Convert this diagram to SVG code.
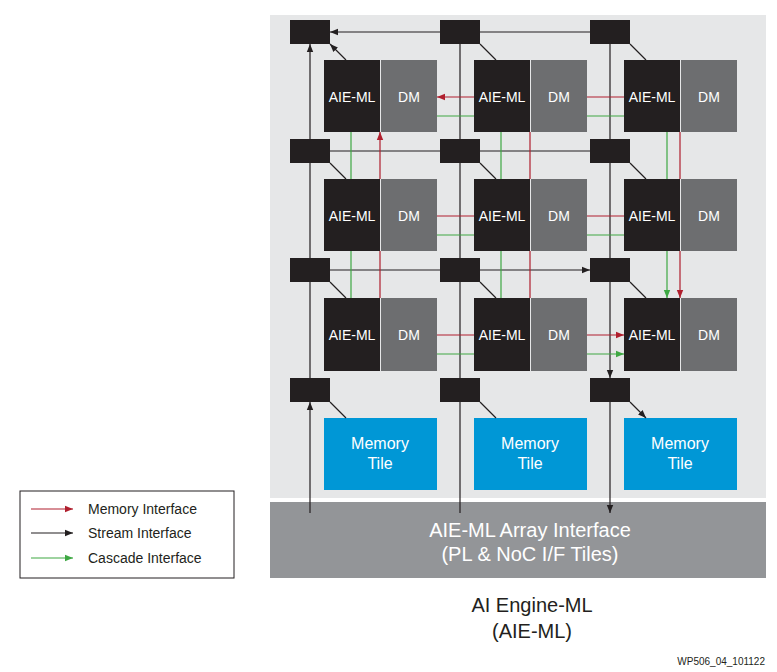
<svg xmlns="http://www.w3.org/2000/svg" width="777" height="672" viewBox="0 0 777 672">
<defs>
<marker id="ak" viewBox="0 0 10 10" refX="10" refY="5" markerWidth="8" markerHeight="8" markerUnits="userSpaceOnUse" orient="auto-start-reverse"><path d="M0,1 L10,5 L0,9 Z" fill="#231f20"/></marker>
<marker id="ar" viewBox="0 0 10 10" refX="10" refY="5" markerWidth="8" markerHeight="8" markerUnits="userSpaceOnUse" orient="auto-start-reverse"><path d="M0,1 L10,5 L0,9 Z" fill="#b01f2e"/></marker>
<marker id="ag" viewBox="0 0 10 10" refX="10" refY="5" markerWidth="8" markerHeight="8" markerUnits="userSpaceOnUse" orient="auto-start-reverse"><path d="M0,1 L10,5 L0,9 Z" fill="#3ea843"/></marker>
</defs>
<style>
text{font-family:"Liberation Sans",Arial,sans-serif;}
.sw{fill:#231f20}
.aie{fill:#231f20}
.dm{fill:#6d6e70}
.mt{fill:#0097d6}
.lbl{fill:#fff;font-size:14px;text-anchor:middle}
.mtl{fill:#fff;font-size:16px;text-anchor:middle}
.k{stroke:#231f20;stroke-width:1.2;fill:none;marker-start:url(#ak);marker-end:url(#ak)}
.k1{stroke:#231f20;stroke-width:1.2;fill:none;marker-end:url(#ak)}
.r{stroke:#b01f2e;stroke-width:1.2;fill:none;marker-start:url(#ar);marker-end:url(#ar)}
.g{stroke:#3ea843;stroke-width:1.2;fill:none;marker-end:url(#ag)}
.lr{stroke:#b01f2e;stroke-width:1.2;marker-end:url(#ar)}
.lk{stroke:#231f20;stroke-width:1.2;marker-end:url(#ak)}
.lg{stroke:#3ea843;stroke-width:1.2;marker-end:url(#ag)}
</style>
<rect x="270" y="15" width="496" height="483" fill="#e6e7e8"/>
<rect x="270" y="502" width="496" height="76" fill="#939598"/>
<g id="array-interface">
<text x="530" y="537" font-size="20" fill="#fff" text-anchor="middle">AIE-ML Array Interface</text>
<text x="530" y="561" font-size="20" fill="#fff" text-anchor="middle">(PL &amp; NoC I/F Tiles)</text>
</g>
<g id="switches">
<rect class="sw" x="290" y="20" width="40" height="24"/><rect class="sw" x="440" y="20" width="40" height="24"/><rect class="sw" x="590" y="20" width="40" height="24"/>
<rect class="sw" x="290" y="139" width="40" height="24"/><rect class="sw" x="440" y="139" width="40" height="24"/><rect class="sw" x="590" y="139" width="40" height="24"/>
<rect class="sw" x="290" y="258" width="40" height="24"/><rect class="sw" x="440" y="258" width="40" height="24"/><rect class="sw" x="590" y="258" width="40" height="24"/>
<rect class="sw" x="290" y="378" width="40" height="24"/><rect class="sw" x="440" y="378" width="40" height="24"/><rect class="sw" x="590" y="378" width="40" height="24"/>
</g>
<g id="tiles">
<g id="t11"><rect class="aie" x="324" y="60" width="56" height="72"/><rect class="dm" x="381" y="60" width="56" height="72"/><text class="lbl" x="352" y="102">AIE-ML</text><text class="lbl" x="409" y="102">DM</text></g>
<g id="t12"><rect class="aie" x="474" y="60" width="56" height="72"/><rect class="dm" x="531" y="60" width="56" height="72"/><text class="lbl" x="502" y="102">AIE-ML</text><text class="lbl" x="559" y="102">DM</text></g>
<g id="t13"><rect class="aie" x="624" y="60" width="56" height="72"/><rect class="dm" x="681" y="60" width="56" height="72"/><text class="lbl" x="652" y="102">AIE-ML</text><text class="lbl" x="709" y="102">DM</text></g>
<g id="t21"><rect class="aie" x="324" y="179" width="56" height="72"/><rect class="dm" x="381" y="179" width="56" height="72"/><text class="lbl" x="352" y="221">AIE-ML</text><text class="lbl" x="409" y="221">DM</text></g>
<g id="t22"><rect class="aie" x="474" y="179" width="56" height="72"/><rect class="dm" x="531" y="179" width="56" height="72"/><text class="lbl" x="502" y="221">AIE-ML</text><text class="lbl" x="559" y="221">DM</text></g>
<g id="t23"><rect class="aie" x="624" y="179" width="56" height="72"/><rect class="dm" x="681" y="179" width="56" height="72"/><text class="lbl" x="652" y="221">AIE-ML</text><text class="lbl" x="709" y="221">DM</text></g>
<g id="t31"><rect class="aie" x="324" y="298" width="56" height="73"/><rect class="dm" x="381" y="298" width="56" height="73"/><text class="lbl" x="352" y="340">AIE-ML</text><text class="lbl" x="409" y="340">DM</text></g>
<g id="t32"><rect class="aie" x="474" y="298" width="56" height="73"/><rect class="dm" x="531" y="298" width="56" height="73"/><text class="lbl" x="502" y="340">AIE-ML</text><text class="lbl" x="559" y="340">DM</text></g>
<g id="t33"><rect class="aie" x="624" y="298" width="56" height="73"/><rect class="dm" x="681" y="298" width="56" height="73"/><text class="lbl" x="652" y="340">AIE-ML</text><text class="lbl" x="709" y="340">DM</text></g>
<g id="m1"><rect class="mt" x="324" y="418" width="113" height="72"/><text class="mtl" x="380" y="449">Memory</text><text class="mtl" x="380" y="469">Tile</text></g>
<g id="m2"><rect class="mt" x="474" y="418" width="113" height="72"/><text class="mtl" x="530" y="449">Memory</text><text class="mtl" x="530" y="469">Tile</text></g>
<g id="m3"><rect class="mt" x="624" y="418" width="113" height="72"/><text class="mtl" x="680" y="449">Memory</text><text class="mtl" x="680" y="469">Tile</text></g>
</g>
<g id="connectors">
<!-- stream vertical -->
<path class="k" d="M310,44V139M460,44V139M610,44V139M310,163V258M460,163V258M610,163V258M310,282V378M460,282V378M610,282V378"/>
<path class="k" d="M310,402V513M460,402V513M610,402V513"/>
<!-- stream horizontal -->
<path class="k" d="M330,32H440M480,32H590M330,151H440M480,151H590M330,270H440M480,270H590"/>
<!-- diagonals -->
<path class="k" d="M330,44L346,60M480,44L496,60M630,44L646,60M330,163L346,179M480,163L496,179M630,163L646,179M330,282L346,298M480,282L496,298M630,282L646,298M330,402L346,418M480,402L496,418M630,402L646,418"/>
<!-- memory horizontal -->
<path class="r" d="M437,97H474M587,97H624M437,216H474M587,216H624M437,335H474M587,335H624"/>
<!-- memory vertical -->
<path class="r" d="M380,132V179M530,132V179M680,132V179M380,251V298M530,251V298M680,251V298"/>
<!-- cascade -->
<path class="g" d="M437,116H474M587,116H624M437,235H474M587,235H624M437,354H474M587,354H624"/>
<path class="g" d="M351,132V179M501,132V179M667,132V179M351,251V298M501,251V298M667,251V298"/>
</g>
<g id="legend">
<rect x="20" y="491" width="214" height="87" fill="#fff" stroke="#231f20" stroke-width="1"/>
<line class="lr" x1="31" y1="509" x2="73" y2="509"/>
<line class="lk" x1="31" y1="533" x2="73" y2="533"/>
<line class="lg" x1="31" y1="558" x2="73" y2="558"/>
<text x="88" y="514" font-size="14" fill="#231f20">Memory Interface</text>
<text x="88" y="538" font-size="14" fill="#231f20">Stream Interface</text>
<text x="88" y="563" font-size="14" fill="#231f20">Cascade Interface</text>
</g>
<text x="532" y="612" font-size="20" fill="#231f20" text-anchor="middle">AI Engine-ML</text>
<text x="532" y="638" font-size="20" fill="#231f20" text-anchor="middle">(AIE-ML)</text>
<text x="765" y="665" font-size="10" fill="#231f20" text-anchor="end">WP506_04_101122</text>
</svg>
